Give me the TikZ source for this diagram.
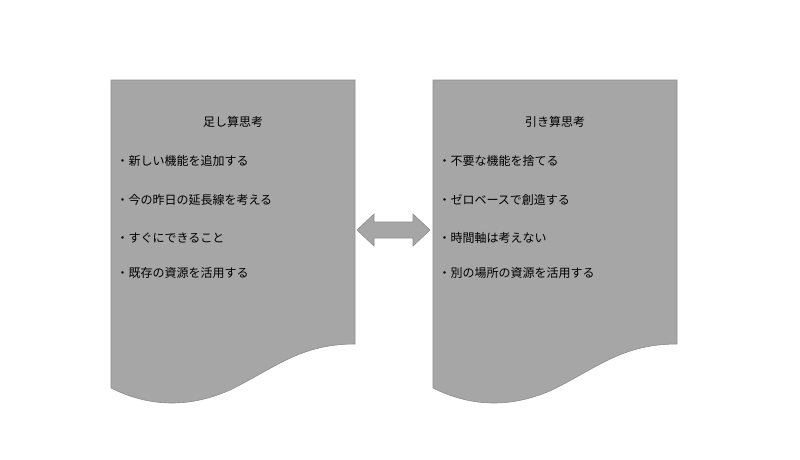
\documentclass[tikz,border=0pt]{standalone}
\usepackage{fontspec}
\newfontfamily\cjk{Noto Sans CJK JP}
\begin{document}
\begin{tikzpicture}[x=1pt,y=-1pt,
  doc/.style={fill=black!35,draw=black!45,line width=0.6pt},
  ttl/.style={font=\cjk\fontsize{12}{14}\selectfont,anchor=center},
  item/.style={font=\cjk\fontsize{12}{14}\selectfont,anchor=west}]
\useasboundingbox (0,0) rectangle (800,459);
\path[doc] (111,80) -- (355,80) -- (355,344) .. controls (300,344) and (275,368) .. (230,390) .. controls (185,410) and (145,405) .. (111,388) -- cycle;
\path[doc] (433,80) -- (677,80) -- (677,344) .. controls (622,344) and (597,368) .. (552,390) .. controls (507,410) and (467,405) .. (433,388) -- cycle;
\node[ttl] (t1) at (233,122) {足し算思考};
\node[item] (a1) at (113,161) {・新しい機能を追加する};
\node[item] (a2) at (113,200) {・今の昨日の延長線を考える};
\node[item] (a3) at (113,238) {・すぐにできること};
\node[item] (a4) at (113,273) {・既存の資源を活用する};
\node[ttl] (t2) at (555,122) {引き算思考};
\node[item] (b1) at (435,161) {・不要な機能を捨てる};
\node[item] (b2) at (435,200) {・ゼロベースで創造する};
\node[item] (b3) at (435,238) {・時間軸は考えない};
\node[item] (b4) at (435,273) {・別の場所の資源を活用する};
\path[doc] (357,230) -- (374,214) -- (374,222) -- (413,222) -- (413,214) -- (430,230) -- (413,246) -- (413,238) -- (374,238) -- (374,246) -- cycle;
\end{tikzpicture}
\end{document}
